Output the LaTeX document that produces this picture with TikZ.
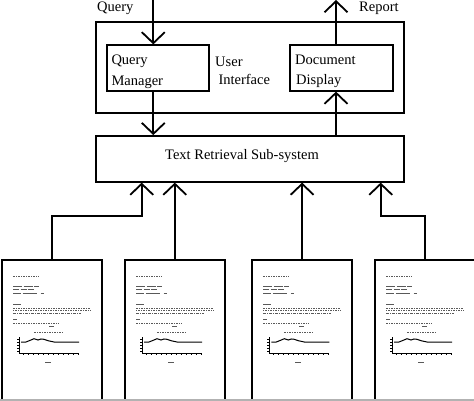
\documentclass[tikz,border=0pt]{standalone}
\usepackage{fontspec}
\setmainfont{Liberation Serif}
\usetikzlibrary{arrows.meta}

\tikzset{
  box/.style={draw,line width=1.8pt,inner sep=0pt},
  page/.style={draw,line width=1.6pt,inner sep=0pt,minimum width=100pt,minimum height=160pt},
  lbl/.style={anchor=base west,inner sep=0pt},
  arr/.style={line width=1.8pt,-{Straight Barb[length=11pt,width=23pt]}},
  fake/.style={line width=0.8pt,black!65}
}

\begin{document}
\begin{tikzpicture}[x=1pt,y=-1pt,font=\fontsize{14.5}{17}\selectfont]

\useasboundingbox (0,0) rectangle (474,401);
\clip (0,0) rectangle (474,401);

% boxes
\node[box,minimum width=308.3pt,minimum height=91pt] (ui) at (250.15,67.8) {};
\node[box,minimum width=102.6pt,minimum height=45.4pt] (qm) at (158,68) {};
\node[box,minimum width=102.7pt,minimum height=45.4pt] (dd) at (341.35,68) {};
\node[box,minimum width=308.3pt,minimum height=45.7pt] (trs) at (250.15,158.85) {};

% texts
\node[lbl] (qlabel) at (97,12) {Query};
\node[lbl] (rlabel) at (359,11.5) {Report};
\node[lbl] (qm1) at (111.3,65) {Query};
\node[lbl] (qm2) at (111.3,86) {Manager};
\node[lbl] (ui1) at (215,66.7) {User};
\node[lbl] (ui2) at (218.3,85) {Interface};
\node[lbl] (dd1) at (295,64.3) {Document};
\node[lbl] (dd2) at (296,85) {Display};
\node[lbl] (trstext) at (165,159.3) {Text Retrieval Sub-system};

% document pages
\node[page,anchor=north west] (doc1) at (1,259) {};
\node[page,anchor=north west] (doc2) at (124,259) {};
\node[page,anchor=north west] (doc3) at (251.3,259) {};
\node[page,anchor=north west] (doc4) at (374,259) {};

% what is printed on the pages
\foreach \dx in {1,124,251.3,374}{
\begin{scope}[shift={(\dx,259)}]
  \draw[fake,dash pattern=on 2pt off 1pt on 1pt off 1pt] (12,17) -- (38,17);
  \draw[fake,dash pattern=on 9pt off 1.5pt] (12,27) -- (38,27);
  \draw[fake,dash pattern=on 6pt off 1.5pt] (12,30) -- (33,30);
  \draw[fake,dash pattern=on 8pt off 1.5pt on 14pt off 4pt] (12,34) -- (43,34);
  \draw[fake] (12,45) -- (20,45);
  \draw[fake,dash pattern=on 2pt off 1pt on 1pt off 1pt] (12,49) -- (90,49);
  \draw[fake,dash pattern=on 1pt off 1pt on 2pt off 1pt] (12,51.5) -- (90,51.5);
  \draw[fake,dash pattern=on 3pt off 1pt on 1pt off 1pt] (12,54) -- (80,54);
  \draw[fake] (12,60) -- (16,60);
  \draw[fake,dash pattern=on 2pt off 1pt on 1pt off 1pt] (12,64) -- (58,64);
  \draw[fake] (48,67) -- (53,67);
  \draw[fake,dash pattern=on 2pt off 1pt on 1pt off 1pt] (33,73) -- (62,73);
  % little chart
  \draw[line width=1pt] (18,78) -- (18,94) -- (78,94);
  \foreach \t in {22,27,...,77} \draw[line width=0.8pt] (\t,94) -- (\t,95.5);
  \foreach \t in {80,83,...,92} \draw[line width=0.8pt] (16,\t) -- (18,\t);
  \draw[line width=1pt] (20,83) -- (25,83) -- (30,81) -- (33,79.7) -- (37,81) -- (40,80)
    -- (43,80.3) -- (47,81.7) -- (53,83) -- (78,83);
  \draw[fake] (44,103) -- (50,103);
\end{scope}
}

% connectors
\coordinate (qin) at (153.3,0);
\coordinate (rout) at (336,0);
\coordinate (j1) at (141.7,215.7);
\coordinate (j4) at (380.7,215.7);

\draw[arr] (qin) -- (qin |- qm.north);
\draw[arr] (qin |- qm.south) -- (qin |- trs.north);
\draw[arr] (rout |- dd.north) -- (rout);
\draw[arr] (rout |- trs.north) -- (rout |- dd.south);

\draw[arr] (doc1.north) |- (j1) -- (j1 |- trs.south);
\draw[arr] (doc2.north) -- (doc2.north |- trs.south);
\draw[arr] (doc3.north) -- (doc3.north |- trs.south);
\draw[arr] (doc4.north) |- (j4) -- (j4 |- trs.south);

% grey band at the foot
\fill[black!30] (0,398.5) rectangle (474,401);

\end{tikzpicture}
\end{document}
